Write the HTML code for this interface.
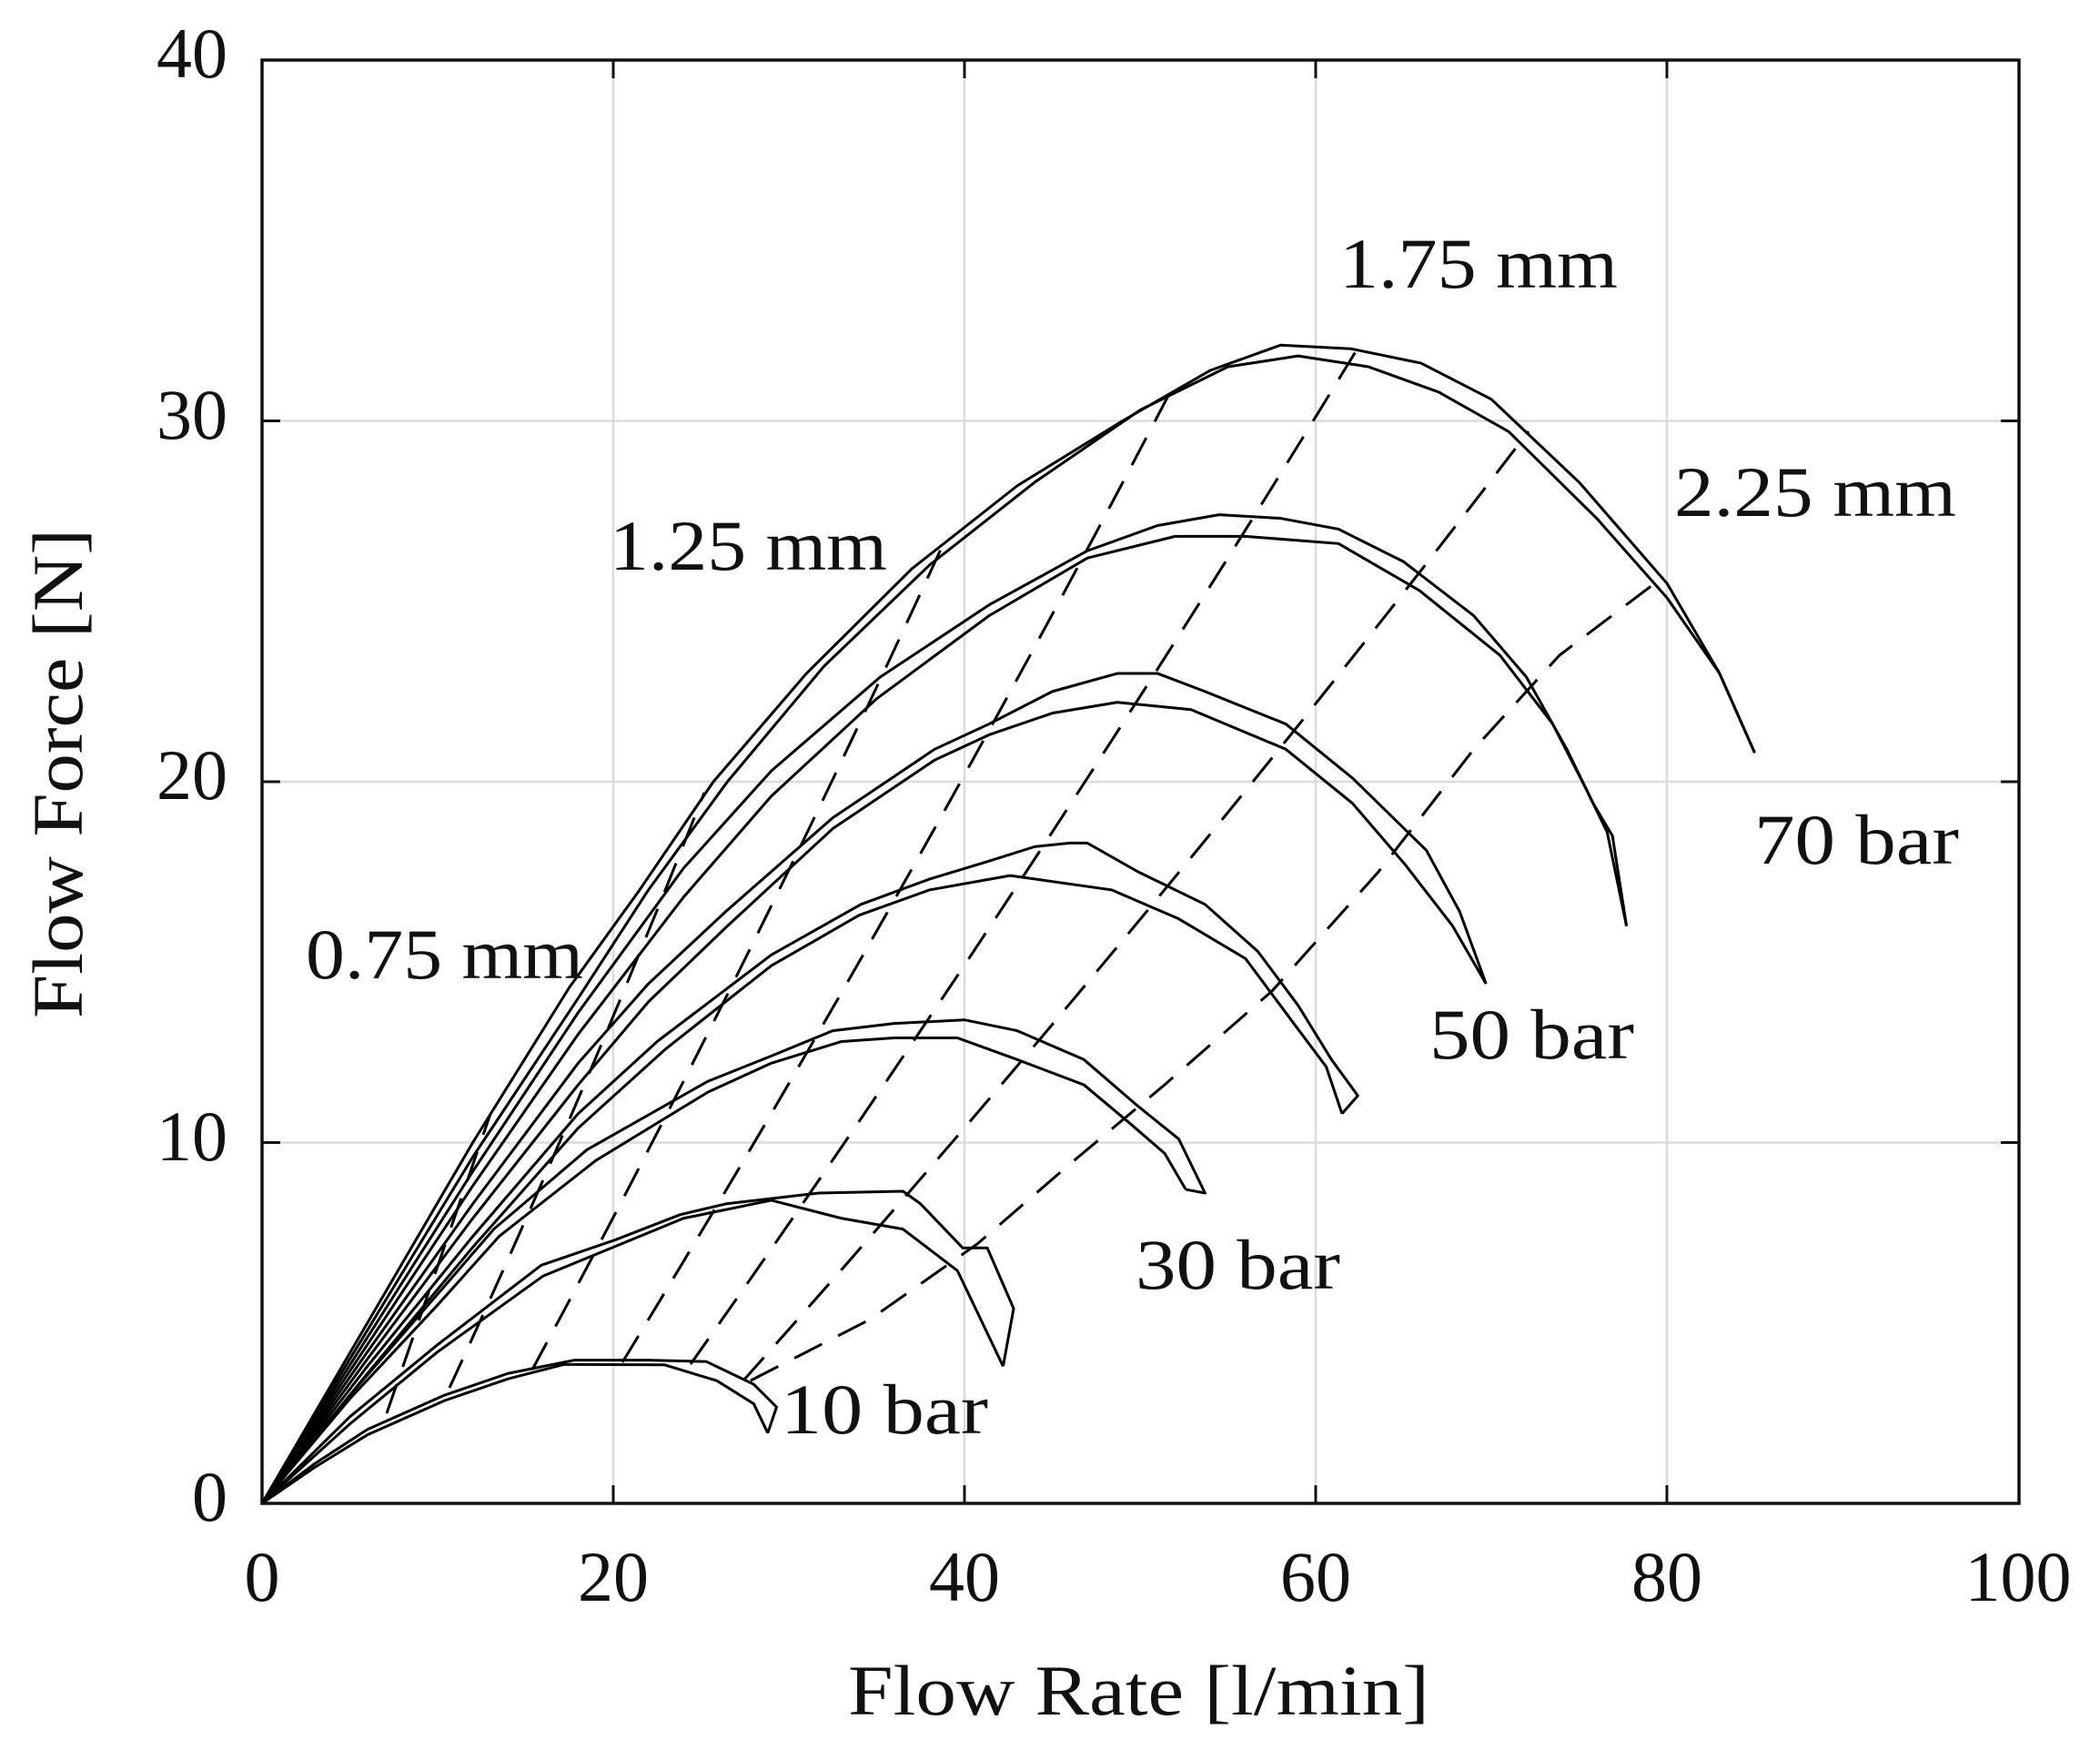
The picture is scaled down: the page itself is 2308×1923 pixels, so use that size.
<!DOCTYPE html>
<html><head><meta charset="utf-8"><style>
html,body{margin:0;padding:0;background:#fff}
svg{display:block}
text{font-family:"Liberation Serif",serif;fill:#111}
</style></head><body>
<svg width="2308" height="1923" viewBox="0 0 2308 1923" xmlns="http://www.w3.org/2000/svg">
<rect width="2308" height="1923" fill="#fff"/>
<!-- grid -->
<g stroke="#dcdcdc" stroke-width="2.5">
<line x1="674" y1="66" x2="674" y2="1652"/><line x1="1060" y1="66" x2="1060" y2="1652"/>
<line x1="1446" y1="66" x2="1446" y2="1652"/><line x1="1832" y1="66" x2="1832" y2="1652"/>
<line x1="288" y1="1255.5" x2="2219" y2="1255.5"/><line x1="288" y1="859" x2="2219" y2="859"/>
<line x1="288" y1="462.5" x2="2219" y2="462.5"/>
</g>
<!-- ticks -->
<g stroke="#111" stroke-width="3">
<line x1="674" y1="1652" x2="674" y2="1632"/><line x1="1060" y1="1652" x2="1060" y2="1632"/><line x1="1446" y1="1652" x2="1446" y2="1632"/><line x1="1832" y1="1652" x2="1832" y2="1632"/>
<line x1="674" y1="66" x2="674" y2="86"/><line x1="1060" y1="66" x2="1060" y2="86"/><line x1="1446" y1="66" x2="1446" y2="86"/><line x1="1832" y1="66" x2="1832" y2="86"/>
<line x1="288" y1="1255.5" x2="308" y2="1255.5"/><line x1="288" y1="859" x2="308" y2="859"/><line x1="288" y1="462.5" x2="308" y2="462.5"/>
<line x1="2219" y1="1255.5" x2="2199" y2="1255.5"/><line x1="2219" y1="859" x2="2199" y2="859"/><line x1="2219" y1="462.5" x2="2199" y2="462.5"/>
</g>
<!-- curves -->
<g transform="translate(288,1652) scale(19.3,-39.65)" fill="none" stroke="#000" stroke-width="3" stroke-linejoin="round" vector-effect="non-scaling-stroke">
<polyline vector-effect="non-scaling-stroke" points="0,0 6,5 12,10 17.5,14.3 21.5,17 25.7,20 31,23 37,25.9 43,28.2 49,30 54,31.4 58,32.1 62,32 66,31.6 70,30.6 75,28.3 80,25.5 83,23 85,20.8"/>
<polyline vector-effect="non-scaling-stroke" points="0,0 6,4.8 12,9.6 18,14 22,17 26.5,20 32,23.2 38,26 44,28.3 50,30.3 55,31.5 59,31.8 63,31.5 67,30.8 71,29.7 76,27.3 80,25.1 83,23 85,20.8"/>
<polyline vector-effect="non-scaling-stroke" points="0,0 6,4.6 12,9.2 18,13.6 24,17.6 29,20.3 35.2,22.9 41.4,24.9 47,26.4 51,27.1 54.5,27.4 58,27.3 61.3,27 65,26.1 69,24.6 72,22.9 74.3,20.9 75.8,19.4 76.9,18.5 77.7,16"/>
<polyline vector-effect="non-scaling-stroke" points="0,0 6,4.4 12,8.8 18,13 24,16.8 29,19.6 35,22.3 41.4,24.6 47,26.2 52,26.8 56,26.8 61.3,26.6 65.9,25.3 70.5,23.5 73.5,21.6 75.4,19.8 76.6,18.6 77.7,16"/>
<polyline vector-effect="non-scaling-stroke" points="0,0 6,4.2 12,8.3 18,12.2 22,14.4 26.4,16.4 32.5,19 38.3,20.9 41.4,21.6 45,22.5 48.7,23 51,23 53.7,22.5 58.3,21.6 62.1,20.1 66.3,18.1 68.2,16.4 69.7,14.4"/>
<polyline vector-effect="non-scaling-stroke" points="0,0 6,4 12,7.9 18,11.6 22,13.9 26.5,16 32.5,18.7 38.3,20.6 41.4,21.3 45,21.9 48.7,22.2 52.9,22 58.3,20.9 62.1,19.4 65.1,17.7 67.8,16 69.7,14.4"/>
<polyline vector-effect="non-scaling-stroke" points="0,0 6,3.8 12,7.4 18,10.8 22.5,12.8 29,15.2 34.1,16.6 38,17.3 41.4,17.8 44,18.2 46,18.3 47,18.3 49.9,17.5 53.7,16.6 56.7,15.3 59,13.8 60.9,12.3 62.4,11.3 61.5,10.8"/>
<polyline vector-effect="non-scaling-stroke" points="0,0 6,3.6 12,7.1 18,10.4 23,12.6 29,14.9 34,16.3 38,17 42.6,17.4 48.4,17 52.2,16.2 56,15.1 58.6,13.4 60.6,12.1 61.5,10.8"/>
<polyline vector-effect="non-scaling-stroke" points="0,0 5,3 10,5.8 13.2,7.6 18.5,9.8 25.4,11.7 29,12.4 32.5,13.1 36,13.3 40,13.4 43,13.1 46.8,12.3 49.9,11 52.2,10.1 53.7,8.6 52.6,8.7"/>
<polyline vector-effect="non-scaling-stroke" points="0,0 5,2.9 10,5.5 13.5,7.4 19,9.5 25.4,11.4 29,12.2 33,12.8 36,12.9 39.6,12.9 43,12.3 46.8,11.6 49.5,10.5 51.4,9.7 52.6,8.7"/>
<polyline vector-effect="non-scaling-stroke" points="0,0 5,2.4 10,4.4 15.9,6.6 20.1,7.3 23.8,8.0 26.4,8.3 31.7,8.6 36.5,8.65 37.5,8.3 39.9,7.08 41.3,7.08 42.8,5.4 42.2,3.8"/>
<polyline vector-effect="non-scaling-stroke" points="0,0 5,2.2 10,4.2 16,6.3 20,7.1 24,7.9 29,8.4 33,7.9 36.5,7.6 39.6,6.45 42.2,3.8"/>
<polyline vector-effect="non-scaling-stroke" points="0,0 3,1.1 6,2.05 10.4,3.0 14,3.6 17.8,3.97 22,3.97 25.3,3.93 28,3.3 29.3,2.67 28.8,1.95"/>
<polyline vector-effect="non-scaling-stroke" points="0,0 3,1 6,1.9 10.4,2.85 14,3.45 17.2,3.85 22.9,3.84 25.9,3.4 28,2.76 28.8,1.95"/>
</g>
<!-- dashed -->
<g fill="none" stroke="#000" stroke-width="3" stroke-dasharray="34,20">
<path d="M425,1553 L539,1224"/>
<path d="M494,1525 Q640,1210 774,871"/>
<path d="M585,1505 Q820,1070 1037,597"/>
<path d="M684,1497 Q1000,980 1286,431"/>
<path d="M759,1499 Q1140,960 1492,383"/>
<path d="M817,1517 Q1270,1010 1680,474"/>
<polyline points="825,1517 956,1450 1074,1367 1176,1279 1280,1192 1398,1089 1515,958 1620,823 1714,720 1824,637"/>
</g>
<!-- frame -->
<rect x="288" y="66" width="1931" height="1586" fill="none" stroke="#111" stroke-width="3.5"/>
<!-- tick labels -->
<g font-size="78" text-anchor="end">
<text x="250" y="85">40</text><text x="250" y="482">30</text><text x="250" y="878">20</text><text x="250" y="1275">10</text><text x="250" y="1671">0</text>
</g>
<g font-size="78" text-anchor="middle">
<text x="288" y="1759">0</text><text x="674" y="1759">20</text><text x="1060" y="1759">40</text><text x="1446" y="1759">60</text><text x="1832" y="1759">80</text><text x="2218" y="1759">100</text>
</g>
<!-- axis titles -->
<text x="932" y="1884" font-size="78" textLength="639" lengthAdjust="spacingAndGlyphs">Flow Rate [l/min]</text>
<text transform="translate(90,1119) rotate(-90)" font-size="78" textLength="538" lengthAdjust="spacingAndGlyphs">Flow Force [N]</text>
<!-- annotations -->
<g font-size="78">
<text x="1472" y="316" textLength="306" lengthAdjust="spacingAndGlyphs">1.75 mm</text>
<text x="1840" y="567" textLength="310" lengthAdjust="spacingAndGlyphs">2.25 mm</text>
<text x="670" y="626" textLength="305" lengthAdjust="spacingAndGlyphs">1.25 mm</text>
<text x="336" y="1075" textLength="305" lengthAdjust="spacingAndGlyphs">0.75 mm</text>
<text x="1928" y="949" textLength="225" lengthAdjust="spacingAndGlyphs">70 bar</text>
<text x="1571" y="1163" textLength="225" lengthAdjust="spacingAndGlyphs">50 bar</text>
<text x="1248" y="1416" textLength="225" lengthAdjust="spacingAndGlyphs">30 bar</text>
<text x="858" y="1575" textLength="228" lengthAdjust="spacingAndGlyphs">10 bar</text>
</g>
</svg>
</body></html>
